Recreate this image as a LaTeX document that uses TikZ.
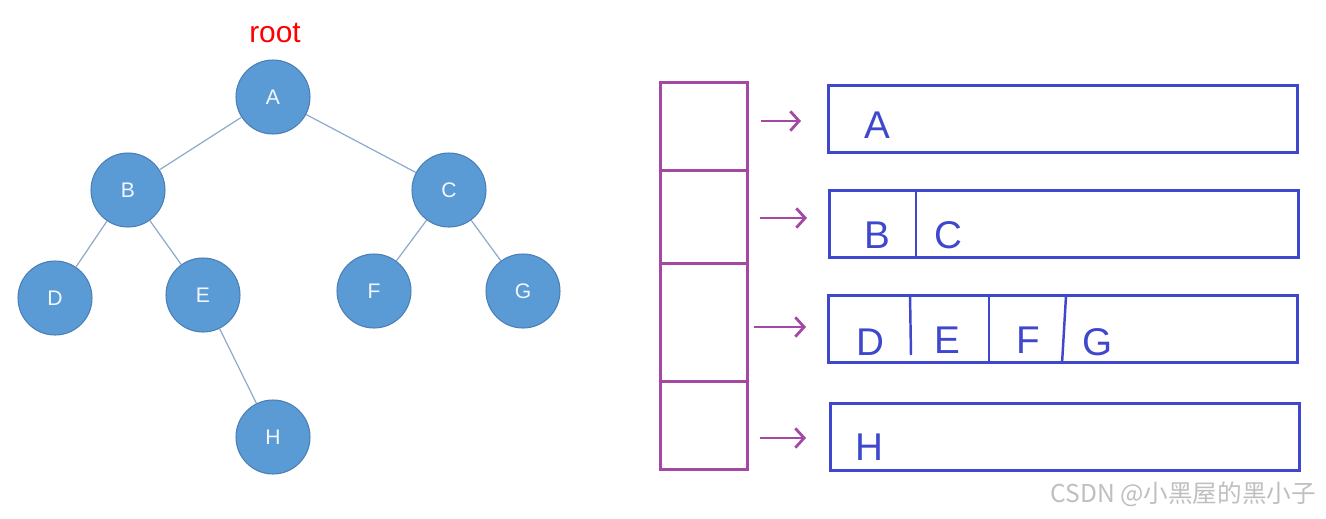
\documentclass[tikz,border=0pt]{standalone}
\usepackage{fontspec}
\setmainfont{Liberation Sans}
\newfontfamily\cjkfont{Noto Sans CJK SC}
\usetikzlibrary{arrows.meta}

\definecolor{nodefill}{HTML}{5B9BD5}
\definecolor{nodeedge}{HTML}{4A7FB5}
\definecolor{edgeline}{HTML}{8FAACC}
\definecolor{queuepurple}{HTML}{A349A4}
\definecolor{levelblue}{HTML}{3F48CC}

\begin{document}
\begin{tikzpicture}[x=0.02cm, y=-0.02cm,
  treenode/.style={circle, fill=nodefill, draw=nodeedge, line width=0.6pt, minimum size=1.48cm, inner sep=0pt, text=white!92!nodefill, font=\fontsize{12}{14}\selectfont},
  treeedge/.style={draw=edgeline, line width=0.7pt},
  slot/.style={draw=queuepurple, line width=1.6pt, minimum width=1.74cm, inner sep=0pt, anchor=north west},
  levelbox/.style={draw=levelblue, line width=1.6pt, minimum width=9.38cm, minimum height=1.34cm, inner sep=0pt, anchor=north west},
  hand/.style={text=levelblue, font=\fontsize{22}{24}\selectfont},
  pointer/.style={draw=queuepurple, line width=1.6pt, -{Straight Barb[length=5pt,width=11pt]}}
]
\useasboundingbox (0,0) rectangle (1326,518);

% the tree
\node[text=red, font=\fontsize{17}{19}\selectfont] (rootlbl) at (275,33) {root};
\node[treenode] (A) at (273,97) {A};
\node[treenode] (B) at (128,190) {B};
\node[treenode] (C) at (449,190) {C};
\node[treenode] (D) at (55,298) {D};
\node[treenode] (E) at (203,295) {E};
\node[treenode] (F) at (374,291) {F};
\node[treenode] (G) at (523,291) {G};
\node[treenode] (H) at (273,437) {H};
\draw[treeedge] (A) -- (B);
\draw[treeedge] (A) -- (C);
\draw[treeedge] (B) -- (D);
\draw[treeedge] (B) -- (E);
\draw[treeedge] (C) -- (F);
\draw[treeedge] (C) -- (G);
\draw[treeedge] (E) -- (H);

% the queue of levels
\node[slot, minimum height=1.76cm] (s1) at (659,81) {};
\node[slot, minimum height=1.86cm] (s2) at (659,169) {};
\node[slot, minimum height=2.36cm] (s3) at (659,262) {};
\node[slot, minimum height=1.76cm] (s4) at (659,380) {};

\node[levelbox] (b1) at (827,84) {};
\node[levelbox] (b2) at (828,189) {};
\node[levelbox] (b3) at (827,294) {};
\node[levelbox] (b4) at (829,402) {};

\coordinate (p1) at (761,121);
\coordinate (p2) at (760,218);
\coordinate (p3) at (754,327);
\coordinate (p4) at (760,438);
\draw[pointer, shorten >=0.52cm] (p1) -- (p1 -| b1.west);
\draw[pointer, shorten >=0.42cm] (p2) -- (p2 -| b2.west);
\draw[pointer, shorten >=0.42cm] (p3) -- (p3 -| b3.west);
\draw[pointer, shorten >=0.46cm] (p4) -- (p4 -| b4.west);

% cells
\draw[draw=levelblue, line width=1.6pt] (916,189) -- (916,256);
\draw[draw=levelblue, line width=1.4pt] (910,294) -- (911,355);
\draw[draw=levelblue, line width=1.4pt] (989,296) -- (989,361);
\draw[draw=levelblue, line width=1.4pt] (1066,296) -- (1062,364);

\node[hand] (lA) at (877,125) {A};
\node[hand] (lB) at (877,235) {B};
\node[hand] (lC) at (948,235) {C};
\node[hand] (lD) at (870,342) {D};
\node[hand] (lE) at (947,340) {E};
\node[hand] (lF) at (1028,340) {F};
\node[hand] (lG) at (1098,342) {G};
\node[hand] (lH) at (869,447) {H};

\node[anchor=east, text=black!25, font=\fontsize{14}{16}\cjkfont] (mark) at (1322,494) {CSDN @小黑屋的黑小子};
\end{tikzpicture}
\end{document}
